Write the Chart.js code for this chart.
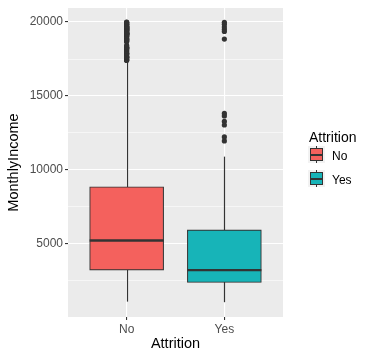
<!DOCTYPE html>
<html><head><meta charset="utf-8">
<script src="https://cdn.jsdelivr.net/npm/chart.js@4.4.1/dist/chart.umd.min.js"></script>
<style>
html,body{margin:0;padding:0;background:#fff;}
#wrap{position:relative;width:371px;height:357px;overflow:hidden;}
#c{position:absolute;left:0;top:0;}
.lg{position:absolute;font-family:"Liberation Sans",Arial,sans-serif;color:#000;white-space:nowrap;}
</style></head><body>
<div id="wrap"><canvas id="c" width="371" height="357"></canvas><div id="legend"></div></div>
<script>
const categories = ['No', 'Yes'];
const boxColors = ['#F4615D', '#17B4B8'];
const lowerWhisker = [1100, 1060];
const lowerQuartile = [3230, 2395];
const medians = [5230, 3230];
const upperQuartile = [8860, 5950];
const upperWhisker = [17250, 10900];
const outliersNo = [17399, 17426, 17444, 17465, 17567, 17584, 17603, 17639, 17650, 17665, 17779, 17856, 17861, 17875, 17924, 18041, 18061, 18172, 18200, 18213, 18265, 18300, 18303, 18430, 18665, 18711, 18740, 18789, 18824, 18844, 18880, 18947, 19033, 19049, 19068, 19141, 19144, 19161, 19187, 19189, 19197, 19232, 19237, 19246, 19272, 19294, 19328, 19392, 19406, 19431, 19436, 19502, 19513, 19517, 19545, 19566, 19586, 19626, 19636, 19658, 19665, 19701, 19717, 19740, 19833, 19845, 19847, 19926, 19943, 19973, 19999];
const outliersYes = [11960, 12230, 13040, 13280, 13650, 13820, 18850, 19360, 19500, 19660, 19850, 19980];
const yTicks = [2500, 5000, 7500, 10000, 12500, 15000, 17500, 20000];
const yMin = 60, yMax = 20948;

const FAM = '"Liberation Sans", Arial, sans-serif';

const panelBg = {
  id: 'panelBg',
  beforeDraw(chart) {
    const {ctx, chartArea: a} = chart;
    ctx.save();
    ctx.fillStyle = '#EBEBEB';
    ctx.fillRect(a.left, a.top, a.right - a.left, a.bottom - a.top);
    ctx.restore();
  }
};

const boxExtras = {
  id: 'boxExtras',
  beforeDatasetsDraw(chart) {
    const {ctx} = chart;
    const xs = chart.scales.x, ys = chart.scales.y;
    ctx.save();
    ctx.strokeStyle = '#333333';
    ctx.lineWidth = 1.2;
    categories.forEach((c, i) => {
      const x = Math.round(xs.getPixelForValue(i + 1)) + 0.5;
      ctx.beginPath();
      ctx.moveTo(x, ys.getPixelForValue(lowerWhisker[i]));
      ctx.lineTo(x, ys.getPixelForValue(upperWhisker[i]));
      ctx.stroke();
    });
    ctx.restore();
  },
  afterDatasetsDraw(chart) {
    const {ctx} = chart;
    const ys = chart.scales.y;
    const meta = chart.getDatasetMeta(0);
    ctx.save();
    ctx.strokeStyle = '#333333';
    ctx.lineWidth = 2.3;
    categories.forEach((c, i) => {
      const el = meta.data[i];
      const y = ys.getPixelForValue(medians[i]);
      ctx.beginPath();
      ctx.moveTo(el.x - el.width / 2, y);
      ctx.lineTo(el.x + el.width / 2, y);
      ctx.stroke();
    });
    ctx.restore();
  }
};

const outlierPoints = [];
outliersNo.forEach(v => outlierPoints.push({x: 1, y: v}));
outliersYes.forEach(v => outlierPoints.push({x: 2, y: v}));

new Chart(document.getElementById('c'), {
  type: 'bar',
  data: {
    datasets: [
      {
        type: 'bar',
        label: 'MonthlyIncome',
        data: categories.map((c, i) => ({x: i + 1, y: [lowerQuartile[i], upperQuartile[i]]})),
        backgroundColor: boxColors,
        borderColor: '#333333',
        borderWidth: 1.1,
        borderSkipped: false,
        barThickness: 74
      },
      {
        type: 'scatter',
        label: 'outliers',
        data: outlierPoints,
        pointRadius: 2.6,
        pointBackgroundColor: '#333333',
        pointBorderWidth: 0,
        pointHoverRadius: 2.6
      }
    ]
  },
  options: {
    responsive: false,
    animation: false,
    devicePixelRatio: 1,
    events: [],
    layout: {padding: {top: 8, right: 88, left: 0, bottom: 0}},
    plugins: {legend: {display: false}, tooltip: {enabled: false}},
    scales: {
      x: {
        type: 'linear', min: 0.4, max: 2.6, offset: false,
        afterBuildTicks: s => { s.ticks = categories.map((c, i) => ({value: i + 1})); },
        afterFit: s => { s.height = 40; },
        ticks: {
          callback: v => categories[v - 1] ?? '',
          font: {family: FAM, size: 12}, color: '#4D4D4D', padding: 2,
          autoSkip: false, maxRotation: 0
        },
        grid: {color: '#FFFFFF', lineWidth: 1.1, offset: false, tickColor: '#333333', tickLength: 3, tickWidth: 1.1},
        border: {display: false},
        title: {display: true, text: 'Attrition', font: {family: FAM, size: 14.5}, color: '#000000', padding: {top: 0, bottom: 4}}
      },
      y: {
        type: 'linear', min: yMin, max: yMax, beginAtZero: false,
        afterBuildTicks: s => { s.ticks = yTicks.map(v => ({value: v})); },
        afterFit: s => { s.width = 68; },
        ticks: {
          callback: v => (v % 5000 === 0 ? String(v) : ''),
          font: {family: FAM, size: 12, lineHeight: 1}, color: '#4D4D4D', padding: 2
        },
        grid: {
          color: '#FFFFFF',
          lineWidth: ctx => (ctx.tick && ctx.tick.value % 5000 === 0 ? 1.1 : 0.55),
          tickColor: ctx => (ctx.tick && ctx.tick.value % 5000 === 0 ? '#333333' : 'rgba(0,0,0,0)'),
          tickLength: 3, tickWidth: 1.1
        },
        border: {display: false},
        title: {display: true, text: 'MonthlyIncome', font: {family: FAM, size: 14.5}, color: '#000000', padding: {top: 5, bottom: 0}}
      }
    }
  },
  plugins: [panelBg, boxExtras]
});

// legend
const lg = document.getElementById('legend');
const title = document.createElement('div');
title.className = 'lg';
title.style.cssText = 'left:309px;top:130px;font-size:14px;line-height:14px;';
title.textContent = 'Attrition';
lg.appendChild(title);
const keyTops = [146, 170];
categories.forEach((c, i) => {
  const key = document.createElement('div');
  key.className = 'lg';
  key.style.cssText = `left:308px;top:${keyTops[i]}px;width:17px;height:17px;background:#F2F2F2;`;
  key.innerHTML =
    '<div style="position:absolute;left:8px;top:0;width:1px;height:17px;background:#333333"></div>' +
    `<div style="position:absolute;left:2px;top:2px;width:13px;height:13px;box-sizing:border-box;border:1px solid #333333;background:${boxColors[i]}"></div>` +
    '<div style="position:absolute;left:2px;top:7.5px;width:13px;height:2px;background:#333333"></div>';
  lg.appendChild(key);
  const t = document.createElement('div');
  t.className = 'lg';
  t.style.cssText = `left:332px;top:${keyTops[i] + 1.5}px;font-size:12px;line-height:17px;`;
  t.textContent = c;
  lg.appendChild(t);
});
</script>
</body></html>
